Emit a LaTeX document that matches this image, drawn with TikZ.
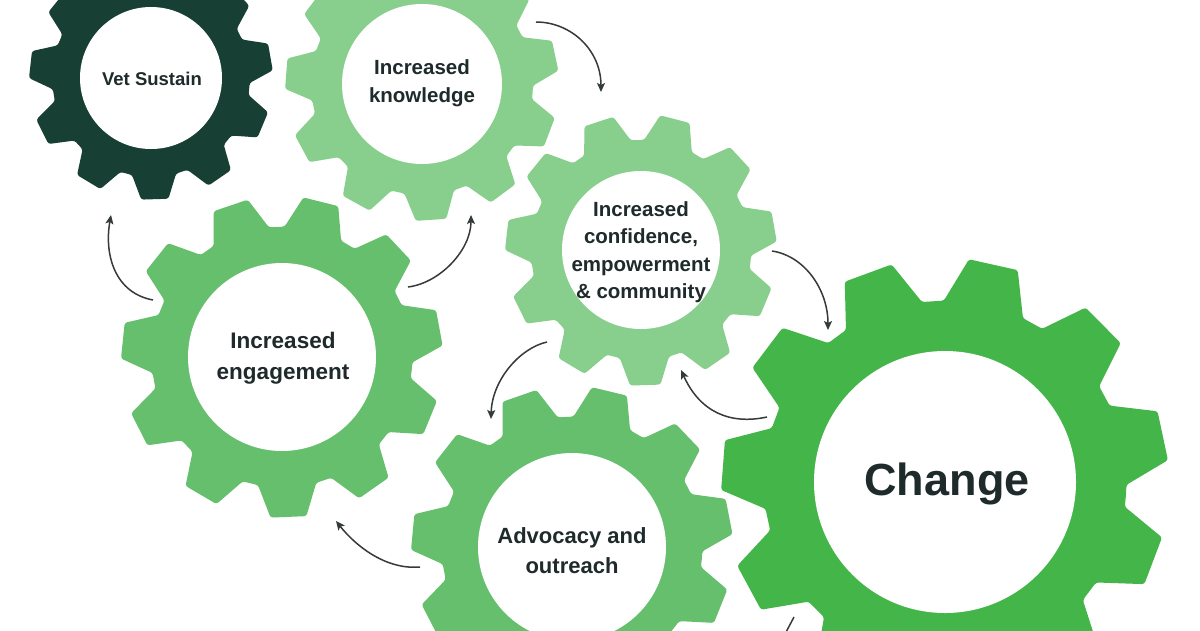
\documentclass[tikz,border=0pt]{standalone}
\usepackage{fontspec}
\setmainfont{Liberation Sans}
\usetikzlibrary{arrows.meta}
\definecolor{gdark}{HTML}{173F33}
\definecolor{glight}{HTML}{88CF8D}
\definecolor{gmed}{HTML}{65BF6C}
\definecolor{gbright}{HTML}{44B549}
\definecolor{txt}{HTML}{1F2A2B}
\definecolor{arrowc}{HTML}{353A3A}
% #1 x, #2 y, #3 outer radius, #4 colour, #5 tooth offset angle
\newcommand\gearshape[5]{%
  \begin{scope}[shift={(#1,#2)}]
    \fill[#4, rounded corners=2.5pt]
      ({-(#5-16.36)}:{0.81*#3})
      \foreach \k in {0,...,10}{
        -- ({-(#5+\k*32.7273-12.9)}:{0.81*#3})
        -- ({-(#5+\k*32.7273-6.4)}:{#3})
        -- ({-(#5+\k*32.7273+6.4)}:{#3})
        -- ({-(#5+\k*32.7273+12.9)}:{0.81*#3})
      } -- cycle;
  \end{scope}}
\begin{document}
\begin{tikzpicture}[x=1pt,y=-1pt,
  hole/.style={circle, fill=white, inner sep=0pt, minimum size=#1},
  lbl/.style={text=txt, font=\bfseries, align=center, inner sep=0pt},
  conn/.style={draw=arrowc, line width=1.5pt, -{Stealth[length=9pt,width=8pt,inset=2pt]}},
  connplain/.style={draw=arrowc, line width=1.5pt}]
\useasboundingbox (0,0) rectangle (1200,630);
\clip (0,0) rectangle (1200,630);
\fill[white] (0,0) rectangle (1200,630);

% gears
\gearshape{151}{78}{122}{gdark}{10}
\gearshape{422}{84}{137}{glight}{12}
\gearshape{641}{250}{136}{glight}{10}
\gearshape{282}{357}{161}{gmed}{10.5}
\gearshape{572}{547}{161}{gmed}{11}
\gearshape{945}{482}{224}{gbright}{12}

% holes
\node[hole=142pt] (vet) at (151,78) {};
\node[hole=160pt] (know) at (422,84) {};
\node[hole=158pt] (conf) at (641,250) {};
\node[hole=188pt] (eng) at (282,357) {};
\node[hole=188pt] (adv) at (572,547) {};
\node[hole=262pt] (chg) at (945,482) {};

% labels
\node[lbl, font=\bfseries\fontsize{18.5}{22}\selectfont] (vett) at (152,79) {Vet Sustain};
\node[lbl, font=\bfseries\fontsize{20.5}{28}\selectfont] (knowt) at (422,83) {Increased\\knowledge};
\node[lbl, font=\bfseries\fontsize{20.5}{27.5}\selectfont] (conft) at (641,252) {Increased\\confidence,\\empowerment\\\& community};
\node[lbl, font=\bfseries\fontsize{22.5}{30.5}\selectfont] (engt) at (283,358) {Increased\\engagement};
\node[lbl, font=\bfseries\fontsize{22}{30}\selectfont] (advt) at (572,551) {Advocacy and\\outreach};
\node[lbl, font=\bfseries\fontsize{45}{50}\selectfont] (chgt) at (947,484) {Change};

% arrow end points
\coordinate (a1s) at (536,22);  \coordinate (a1e) at (601,92);
\coordinate (a2s) at (408,287); \coordinate (a2e) at (471,215);
\coordinate (a3s) at (153,300); \coordinate (a3e) at (111,215);
\coordinate (a4s) at (772,251); \coordinate (a4e) at (828,330);
\coordinate (a5s) at (547,342); \coordinate (a5e) at (491,419);
\coordinate (a6s) at (767,417); \coordinate (a6e) at (681,370);
\coordinate (a7s) at (420,567); \coordinate (a7e) at (336,521);
\coordinate (a8s) at (794,617); \coordinate (a8e) at (785,634);

\draw[conn] (a1s) .. controls (571,22) and (601,50) .. (a1e);
\draw[conn] (a2s) .. controls (440,283) and (471,250) .. (a2e);
\draw[conn] (a3s) .. controls (115,293) and (104,255) .. (a3e);
\draw[conn] (a4s) .. controls (805,256) and (828,290) .. (a4e);
\draw[conn] (a5s) .. controls (520,348) and (492,380) .. (a5e);
\draw[conn] (a6s) .. controls (730,425) and (700,412) .. (a6e);
\draw[conn] (a7s) .. controls (385,570) and (355,545) .. (a7e);
\draw[connplain] (a8s) -- (a8e);
\end{tikzpicture}
\end{document}
